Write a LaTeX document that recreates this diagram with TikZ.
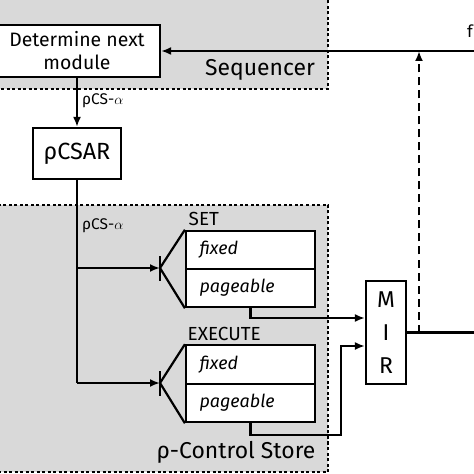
\documentclass[tikz,border=0pt]{standalone}
\usepackage{fontspec}
\setmainfont{Fira Sans}
\usetikzlibrary{arrows.meta}
\definecolor{regiongray}{RGB}{217,217,217}
\tikzset{
  region/.style={fill=regiongray, draw=black, line width=1.5bp, dash pattern=on 3bp off 2.5bp},
  box/.style={draw=black, fill=white, line width=2.2bp, inner sep=0pt},
  conn/.style={draw=black, line width=2.2bp},
  arr/.style={conn, -{Latex[length=10bp,width=8bp]}},
  dashconn/.style={conn, dash pattern=on 8bp off 5bp},
  cell/.style={box, minimum width=129bp, minimum height=38.3bp, text width=102bp, align=left, font=\fontsize{18}{21}\selectfont\itshape},
  lbl/.style={inner sep=0pt, font=\fontsize{15.5}{18}\selectfont},
}
\begin{document}
\begin{tikzpicture}[x=1bp,y=-1bp]
\useasboundingbox (0,0) rectangle (474,474);
\clip (0,0) rectangle (474,474);
% regions
\path[region] (-10,-10) rectangle (328,89);
\path[region] (-10,205) rectangle (328,472);
\node[lbl, font=\fontsize{23}{26}\selectfont] (seqlbl) at (260,70) {Sequencer};
\node[lbl, font=\fontsize{23}{26}\selectfont] (cslbl) at (236,452) {ρ-Control Store};
% boxes
\node[box, minimum width=166bp, minimum height=52bp, align=center, font=\fontsize{19.5}{23}\selectfont] (det) at (77,51) {Determine next\\module};
\node[box, minimum width=88bp, minimum height=51bp, font=\fontsize{23.5}{26}\selectfont] (csar) at (77,153.5) {ρCSAR};
\node[cell] (setfix) at (250.5,250) {fixed};
\node[cell] (setpage) at (250.5,288) {pageable};
\node[cell] (exefix) at (250.5,364.5) {fixed};
\node[cell] (exepage) at (250.5,403) {pageable};
\node[box, minimum width=40bp, minimum height=103bp, align=center, font=\fontsize{23}{33}\selectfont] (mir) at (386,332.5) {M\\I\\R};
% labels
\node[lbl, anchor=base west] (setlbl) at (188.5,226) {\fontsize{19}{22}\selectfont SET};
\node[lbl, anchor=base west] (exelbl) at (187.5,340) {\fontsize{19}{22}\selectfont EXECUTE};
\node[lbl, anchor=base west] (a1) at (82,105) {ρCS-$\alpha$};
\node[lbl, anchor=base west] (a2) at (82,230) {ρCS-$\alpha$};
\node[lbl, anchor=base west, font=\fontsize{17}{20}\selectfont] (flbl) at (467,38) {f};
% coordinates
\coordinate (settip) at (160,268);
\coordinate (exetip) at (160,383);
\coordinate (branch) at (77,268);
\coordinate (corner) at (77,383);
\coordinate (m1) at (0,318);
\coordinate (m2) at (0,346);
\coordinate (c2) at (341,435);
\coordinate (outR) at (480,332.5);
\coordinate (inR) at (480,51);
\coordinate (j1) at (419,332.5);
\coordinate (j2) at (419,51);
\coordinate (sb1) at (160,256);
\coordinate (sb2) at (160,281);
\coordinate (eb1) at (160,371);
\coordinate (eb2) at (160,396);
% connectors
\draw[arr] (det.south) -- (csar.north);
\draw[conn] (csar.south) -- (corner);
\draw[arr] (corner) -- (exetip);
\draw[arr] (branch) -- (settip);
\draw[conn] (sb1) -- (sb2);
\draw[conn] (eb1) -- (eb2);
\draw[conn] (setfix.north west) -- (settip) -- (setpage.south west);
\draw[conn] (exefix.north west) -- (exetip) -- (exepage.south west);
\draw[arr] (setpage.south) |- (mir.west |- m1);
\draw[arr] (exepage.south) |- (c2) |- (mir.west |- m2);
\draw[conn] (mir.east) -- (outR);
\draw[arr] (inR) -- (det.east);
\draw[dashconn, -{Latex[length=10bp,width=8bp]}] (j1) -- (j2);
\end{tikzpicture}
\end{document}
